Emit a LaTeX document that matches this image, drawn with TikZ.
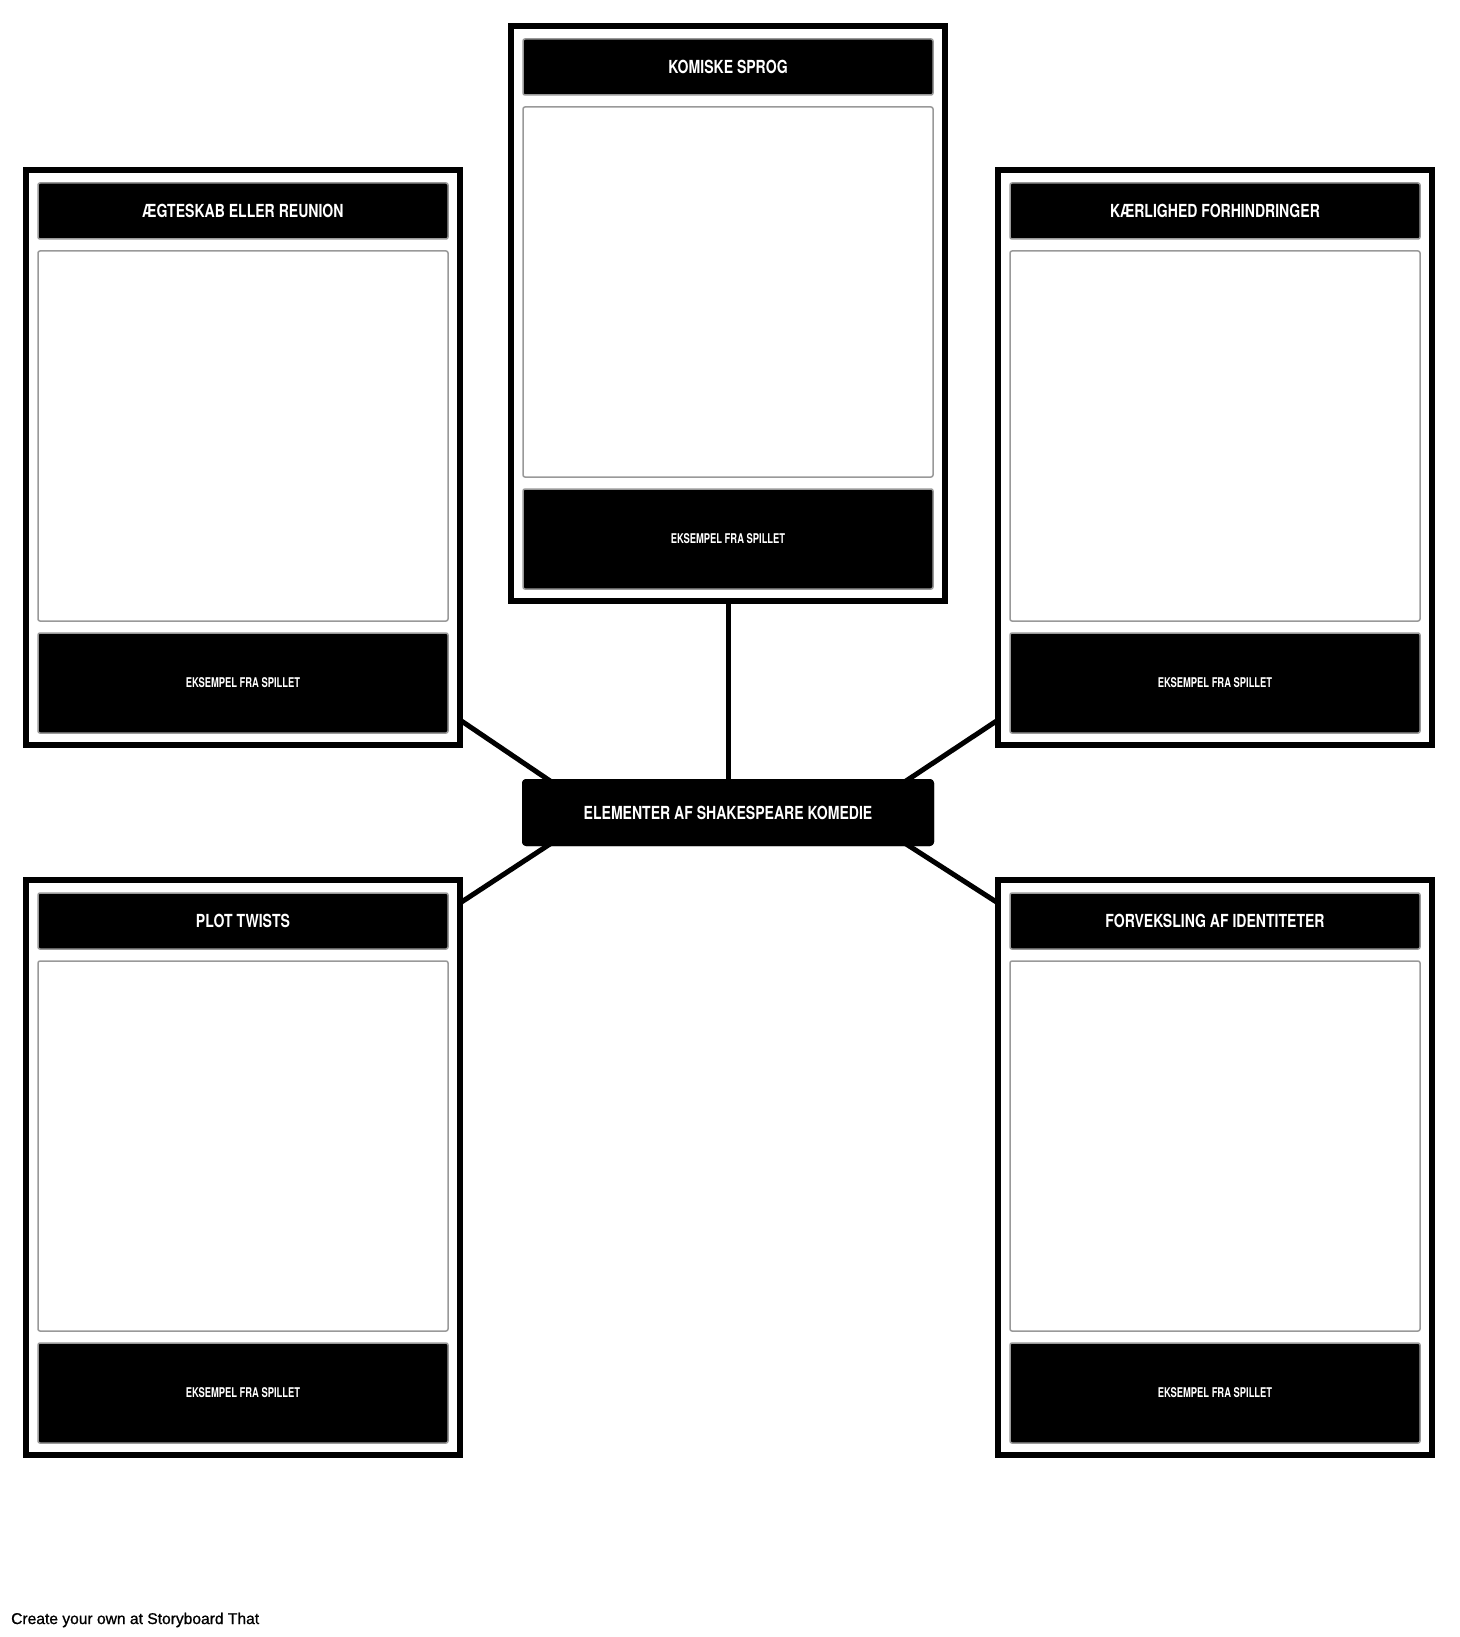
\documentclass[tikz,border=0pt]{standalone}
\usepackage{fontspec}
\usetikzlibrary{calc}
\newfontfamily\condfont[FakeStretch=0.78]{TeX Gyre Heros}
\newfontfamily\smallcondfont[FakeStretch=0.7]{TeX Gyre Heros}
\newfontfamily\wmfont[FakeBold=1]{Liberation Sans}
\tikzset{
  outerbox/.style={draw=black, line width=6pt, fill=white, inner sep=0pt, minimum width=434pt, minimum height=575pt},
  headbox/.style={draw=gray!80, line width=1.5pt, fill=black, rounded corners=2pt, inner sep=0pt, minimum width=410pt, minimum height=56pt, text=white, font=\condfont\bfseries\fontsize{18}{20}\selectfont},
  contentbox/.style={draw=gray!80, line width=1.5pt, fill=white, rounded corners=2pt, inner sep=0pt, minimum width=410pt, minimum height=370pt},
  footbox/.style={draw=gray!80, line width=1.5pt, fill=black, rounded corners=2pt, inner sep=0pt, minimum width=410pt, minimum height=100pt, text=white, font=\smallcondfont\bfseries\fontsize{13.4}{15}\selectfont},
  centerbox/.style={fill=black, rounded corners=4pt, inner sep=0pt, minimum width=412pt, minimum height=67pt, text=white, font=\condfont\bfseries\fontsize{18}{20}\selectfont},
  conn/.style={draw=black, line width=5pt},
}
% #1 name, #2 left x, #3 top y, #4 title
\newcommand{\mypanel}[4]{%
  \node[outerbox] (#1) at (#2+220,#3+290.5) {};
  \node[headbox] (#1-h) at (#2+220,#3+44) {#4};
  \node[contentbox] (#1-c) at (#2+220,#3+269) {};
  \node[footbox] (#1-f) at (#2+220,#3+516) {EKSEMPEL FRA SPILLET};
}
\begin{document}
\begin{tikzpicture}[x=1pt,y=-1pt]
\useasboundingbox[fill=white] (0,0) rectangle (1459,1637);
% center node (placed first for coordinates, redrawn later)
\node[centerbox] (cn) at (728,812.5) {};
% connector end points
\coordinate (p-ul) at (460,720);
\coordinate (p-ll) at (460,903);
\coordinate (p-ur) at (998,720);
\coordinate (p-lr) at (998,903);
\coordinate (q-ul) at ($(cn.north west)+(34,6)$);
\coordinate (q-ll) at ($(cn.south west)+(34,-6)$);
\coordinate (q-ur) at ($(cn.north east)+(-34,6)$);
\coordinate (q-lr) at ($(cn.south east)+(-34,-6)$);
\draw[conn] (p-ul) -- (q-ul);
\draw[conn] (p-ll) -- (q-ll);
\draw[conn] (p-ur) -- (q-ur);
\draw[conn] (p-lr) -- (q-lr);
% panels
\mypanel{tp}{508}{23}{KOMISKE SPROG}
\mypanel{ul}{23}{167}{ÆGTESKAB ELLER REUNION}
\mypanel{ur}{995}{167}{KÆRLIGHED FORHINDRINGER}
\mypanel{ll}{23}{877}{PLOT TWISTS}
\mypanel{lr}{995}{877}{FORVEKSLING AF IDENTITETER}
\draw[conn] (tp.south) -- (cn.north);
\node[centerbox] (cn2) at (cn) {ELEMENTER AF SHAKESPEARE KOMEDIE};
\node[anchor=base west, inner sep=0pt, font=\wmfont\fontsize{15.6}{18}\selectfont] (wm) at (11,1624) {Create your own at Storyboard That};
\end{tikzpicture}
\end{document}
